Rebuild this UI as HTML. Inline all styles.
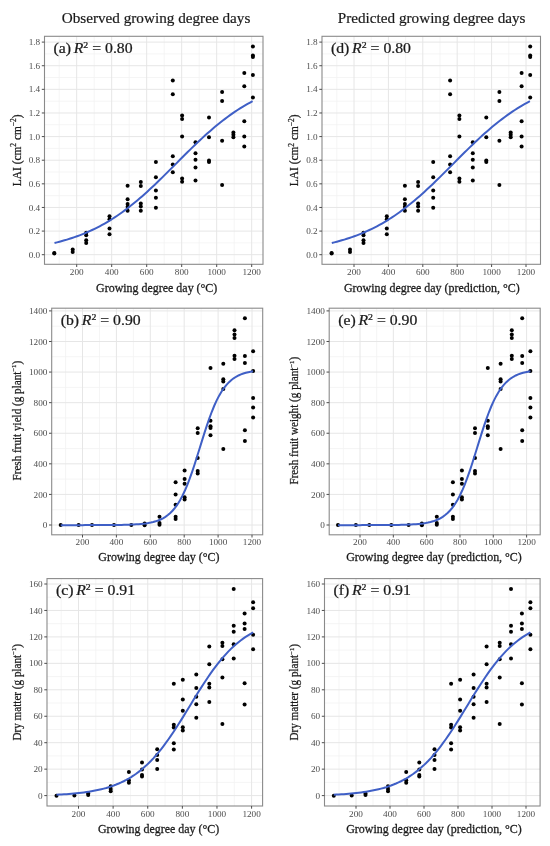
<!DOCTYPE html>
<html><head><meta charset="utf-8"><title>Growing degree days</title>
<style>
html,body{margin:0;padding:0;background:#fff;}
body{width:550px;height:846px;overflow:hidden;}
svg{display:block;}
text{font-family:'Liberation Serif', 'Times New Roman', serif;}
.tk{font-size:9.2px;fill:#4d4d4d;}
.pl{font-size:16px;fill:#1a1a1a;stroke:#1a1a1a;stroke-width:0.28px;}
.al{font-size:11.5px;fill:#1a1a1a;stroke:#1a1a1a;stroke-width:0.25px;}
.tt{font-size:15.2px;fill:#1a1a1a;stroke:#1a1a1a;stroke-width:0.2px;}
</style></head>
<body>
<svg width="550" height="846" viewBox="0 0 550 846">
<rect width="550" height="846" fill="#fff"/>
<text transform="translate(156,23.0) scale(1,0.94)" text-anchor="middle" class="tt">Observed growing degree days</text>
<text transform="translate(431.6,23.0) scale(1,0.94)" text-anchor="middle" class="tt">Predicted growing degree days</text>
<line x1="44.50" y1="242.89" x2="263.00" y2="242.89" stroke="#f3f3f3" stroke-width="0.8"/>
<line x1="44.50" y1="219.27" x2="263.00" y2="219.27" stroke="#f3f3f3" stroke-width="0.8"/>
<line x1="44.50" y1="195.64" x2="263.00" y2="195.64" stroke="#f3f3f3" stroke-width="0.8"/>
<line x1="44.50" y1="172.02" x2="263.00" y2="172.02" stroke="#f3f3f3" stroke-width="0.8"/>
<line x1="44.50" y1="148.40" x2="263.00" y2="148.40" stroke="#f3f3f3" stroke-width="0.8"/>
<line x1="44.50" y1="124.78" x2="263.00" y2="124.78" stroke="#f3f3f3" stroke-width="0.8"/>
<line x1="44.50" y1="101.16" x2="263.00" y2="101.16" stroke="#f3f3f3" stroke-width="0.8"/>
<line x1="44.50" y1="77.53" x2="263.00" y2="77.53" stroke="#f3f3f3" stroke-width="0.8"/>
<line x1="44.50" y1="53.91" x2="263.00" y2="53.91" stroke="#f3f3f3" stroke-width="0.8"/>
<line x1="94.20" y1="36.30" x2="94.20" y2="264.30" stroke="#f3f3f3" stroke-width="0.8"/>
<line x1="129.20" y1="36.30" x2="129.20" y2="264.30" stroke="#f3f3f3" stroke-width="0.8"/>
<line x1="164.20" y1="36.30" x2="164.20" y2="264.30" stroke="#f3f3f3" stroke-width="0.8"/>
<line x1="199.20" y1="36.30" x2="199.20" y2="264.30" stroke="#f3f3f3" stroke-width="0.8"/>
<line x1="234.20" y1="36.30" x2="234.20" y2="264.30" stroke="#f3f3f3" stroke-width="0.8"/>
<line x1="59.20" y1="36.30" x2="59.20" y2="264.30" stroke="#f3f3f3" stroke-width="0.8"/>
<line x1="44.50" y1="254.70" x2="263.00" y2="254.70" stroke="#e6e6e6" stroke-width="1"/>
<line x1="44.50" y1="231.08" x2="263.00" y2="231.08" stroke="#e6e6e6" stroke-width="1"/>
<line x1="44.50" y1="207.46" x2="263.00" y2="207.46" stroke="#e6e6e6" stroke-width="1"/>
<line x1="44.50" y1="183.83" x2="263.00" y2="183.83" stroke="#e6e6e6" stroke-width="1"/>
<line x1="44.50" y1="160.21" x2="263.00" y2="160.21" stroke="#e6e6e6" stroke-width="1"/>
<line x1="44.50" y1="136.59" x2="263.00" y2="136.59" stroke="#e6e6e6" stroke-width="1"/>
<line x1="44.50" y1="112.97" x2="263.00" y2="112.97" stroke="#e6e6e6" stroke-width="1"/>
<line x1="44.50" y1="89.34" x2="263.00" y2="89.34" stroke="#e6e6e6" stroke-width="1"/>
<line x1="44.50" y1="65.72" x2="263.00" y2="65.72" stroke="#e6e6e6" stroke-width="1"/>
<line x1="44.50" y1="42.10" x2="263.00" y2="42.10" stroke="#e6e6e6" stroke-width="1"/>
<line x1="76.70" y1="36.30" x2="76.70" y2="264.30" stroke="#e6e6e6" stroke-width="1"/>
<line x1="111.70" y1="36.30" x2="111.70" y2="264.30" stroke="#e6e6e6" stroke-width="1"/>
<line x1="146.70" y1="36.30" x2="146.70" y2="264.30" stroke="#e6e6e6" stroke-width="1"/>
<line x1="181.70" y1="36.30" x2="181.70" y2="264.30" stroke="#e6e6e6" stroke-width="1"/>
<line x1="216.70" y1="36.30" x2="216.70" y2="264.30" stroke="#e6e6e6" stroke-width="1"/>
<line x1="251.70" y1="36.30" x2="251.70" y2="264.30" stroke="#e6e6e6" stroke-width="1"/>
<circle cx="54.30" cy="253.40" r="2.0"/>
<circle cx="54.30" cy="253.00" r="2.0"/>
<circle cx="72.70" cy="249.40" r="2.0"/>
<circle cx="72.70" cy="251.90" r="2.0"/>
<circle cx="86.20" cy="232.70" r="2.0"/>
<circle cx="86.20" cy="235.20" r="2.0"/>
<circle cx="86.20" cy="240.30" r="2.0"/>
<circle cx="86.20" cy="242.90" r="2.0"/>
<circle cx="109.50" cy="216.30" r="2.0"/>
<circle cx="109.50" cy="219.20" r="2.0"/>
<circle cx="109.50" cy="228.60" r="2.0"/>
<circle cx="109.50" cy="234.20" r="2.0"/>
<circle cx="127.60" cy="185.80" r="2.0"/>
<circle cx="127.60" cy="199.30" r="2.0"/>
<circle cx="127.60" cy="203.90" r="2.0"/>
<circle cx="127.60" cy="206.80" r="2.0"/>
<circle cx="127.60" cy="210.70" r="2.0"/>
<circle cx="140.80" cy="181.90" r="2.0"/>
<circle cx="140.80" cy="185.90" r="2.0"/>
<circle cx="140.80" cy="203.50" r="2.0"/>
<circle cx="140.80" cy="206.40" r="2.0"/>
<circle cx="140.80" cy="210.70" r="2.0"/>
<circle cx="155.90" cy="161.90" r="2.0"/>
<circle cx="155.90" cy="177.20" r="2.0"/>
<circle cx="155.90" cy="190.50" r="2.0"/>
<circle cx="155.90" cy="197.80" r="2.0"/>
<circle cx="155.90" cy="207.80" r="2.0"/>
<circle cx="172.80" cy="80.40" r="2.0"/>
<circle cx="172.80" cy="94.20" r="2.0"/>
<circle cx="172.80" cy="156.30" r="2.0"/>
<circle cx="172.80" cy="164.50" r="2.0"/>
<circle cx="172.80" cy="172.30" r="2.0"/>
<circle cx="182.10" cy="115.40" r="2.0"/>
<circle cx="182.10" cy="119.00" r="2.0"/>
<circle cx="182.10" cy="136.50" r="2.0"/>
<circle cx="182.10" cy="178.40" r="2.0"/>
<circle cx="182.10" cy="181.70" r="2.0"/>
<circle cx="195.50" cy="142.30" r="2.0"/>
<circle cx="195.50" cy="153.20" r="2.0"/>
<circle cx="195.50" cy="159.70" r="2.0"/>
<circle cx="195.50" cy="167.60" r="2.0"/>
<circle cx="195.50" cy="180.50" r="2.0"/>
<circle cx="209.00" cy="117.60" r="2.0"/>
<circle cx="209.00" cy="137.20" r="2.0"/>
<circle cx="209.00" cy="160.60" r="2.0"/>
<circle cx="209.00" cy="162.10" r="2.0"/>
<circle cx="222.10" cy="92.00" r="2.0"/>
<circle cx="222.10" cy="101.00" r="2.0"/>
<circle cx="222.10" cy="140.80" r="2.0"/>
<circle cx="222.10" cy="184.90" r="2.0"/>
<circle cx="233.40" cy="132.50" r="2.0"/>
<circle cx="233.40" cy="134.70" r="2.0"/>
<circle cx="233.40" cy="137.30" r="2.0"/>
<circle cx="244.30" cy="73.10" r="2.0"/>
<circle cx="244.30" cy="86.20" r="2.0"/>
<circle cx="244.30" cy="121.30" r="2.0"/>
<circle cx="244.30" cy="136.50" r="2.0"/>
<circle cx="244.30" cy="146.40" r="2.0"/>
<circle cx="252.90" cy="46.50" r="2.0"/>
<circle cx="252.90" cy="55.60" r="2.0"/>
<circle cx="252.90" cy="57.10" r="2.0"/>
<circle cx="252.90" cy="75.00" r="2.0"/>
<circle cx="252.90" cy="97.40" r="2.0"/>
<path d="M54.50,242.97 L57.01,242.36 L59.52,241.72 L62.02,241.04 L64.53,240.33 L67.04,239.59 L69.55,238.82 L72.05,238.00 L74.56,237.15 L77.07,236.26 L79.58,235.33 L82.08,234.36 L84.59,233.34 L87.10,232.28 L89.61,231.17 L92.11,230.02 L94.62,228.82 L97.13,227.57 L99.64,226.27 L102.14,224.92 L104.65,223.52 L107.16,222.07 L109.67,220.56 L112.17,219.00 L114.68,217.38 L117.19,215.72 L119.70,213.99 L122.21,212.22 L124.71,210.39 L127.22,208.51 L129.73,206.57 L132.24,204.58 L134.74,202.55 L137.25,200.46 L139.76,198.33 L142.27,196.15 L144.77,193.93 L147.28,191.67 L149.79,189.36 L152.30,187.02 L154.80,184.65 L157.31,182.25 L159.82,179.82 L162.33,177.36 L164.83,174.89 L167.34,172.40 L169.85,169.89 L172.36,167.38 L174.86,164.86 L177.37,162.34 L179.88,159.82 L182.39,157.31 L184.89,154.81 L187.40,152.32 L189.91,149.85 L192.42,147.40 L194.93,144.98 L197.43,142.59 L199.94,140.22 L202.45,137.89 L204.96,135.60 L207.46,133.34 L209.97,131.13 L212.48,128.96 L214.99,126.84 L217.49,124.77 L220.00,122.74 L222.51,120.77 L225.02,118.84 L227.52,116.97 L230.03,115.16 L232.54,113.39 L235.05,111.69 L237.55,110.03 L240.06,108.43 L242.57,106.88 L245.08,105.39 L247.58,103.95 L250.09,102.56 L252.60,101.22" fill="none" stroke="#3f5fc6" stroke-width="2.0" stroke-linecap="butt"/>
<rect x="44.50" y="36.30" width="218.50" height="228.00" fill="none" stroke="#8a8a8a" stroke-width="1.1"/>
<line x1="41.80" y1="254.70" x2="44.50" y2="254.70" stroke="#4d4d4d" stroke-width="1"/>
<line x1="41.80" y1="231.08" x2="44.50" y2="231.08" stroke="#4d4d4d" stroke-width="1"/>
<line x1="41.80" y1="207.46" x2="44.50" y2="207.46" stroke="#4d4d4d" stroke-width="1"/>
<line x1="41.80" y1="183.83" x2="44.50" y2="183.83" stroke="#4d4d4d" stroke-width="1"/>
<line x1="41.80" y1="160.21" x2="44.50" y2="160.21" stroke="#4d4d4d" stroke-width="1"/>
<line x1="41.80" y1="136.59" x2="44.50" y2="136.59" stroke="#4d4d4d" stroke-width="1"/>
<line x1="41.80" y1="112.97" x2="44.50" y2="112.97" stroke="#4d4d4d" stroke-width="1"/>
<line x1="41.80" y1="89.34" x2="44.50" y2="89.34" stroke="#4d4d4d" stroke-width="1"/>
<line x1="41.80" y1="65.72" x2="44.50" y2="65.72" stroke="#4d4d4d" stroke-width="1"/>
<line x1="41.80" y1="42.10" x2="44.50" y2="42.10" stroke="#4d4d4d" stroke-width="1"/>
<line x1="76.70" y1="264.30" x2="76.70" y2="267.00" stroke="#4d4d4d" stroke-width="1"/>
<line x1="111.70" y1="264.30" x2="111.70" y2="267.00" stroke="#4d4d4d" stroke-width="1"/>
<line x1="146.70" y1="264.30" x2="146.70" y2="267.00" stroke="#4d4d4d" stroke-width="1"/>
<line x1="181.70" y1="264.30" x2="181.70" y2="267.00" stroke="#4d4d4d" stroke-width="1"/>
<line x1="216.70" y1="264.30" x2="216.70" y2="267.00" stroke="#4d4d4d" stroke-width="1"/>
<line x1="251.70" y1="264.30" x2="251.70" y2="267.00" stroke="#4d4d4d" stroke-width="1"/>
<text x="40.20" y="257.80" text-anchor="end" class="tk">0.0</text>
<text x="40.20" y="234.18" text-anchor="end" class="tk">0.2</text>
<text x="40.20" y="210.56" text-anchor="end" class="tk">0.4</text>
<text x="40.20" y="186.93" text-anchor="end" class="tk">0.6</text>
<text x="40.20" y="163.31" text-anchor="end" class="tk">0.8</text>
<text x="40.20" y="139.69" text-anchor="end" class="tk">1.0</text>
<text x="40.20" y="116.07" text-anchor="end" class="tk">1.2</text>
<text x="40.20" y="92.44" text-anchor="end" class="tk">1.4</text>
<text x="40.20" y="68.82" text-anchor="end" class="tk">1.6</text>
<text x="40.20" y="45.20" text-anchor="end" class="tk">1.8</text>
<text x="76.70" y="274.90" text-anchor="middle" class="tk">200</text>
<text x="111.70" y="274.90" text-anchor="middle" class="tk">400</text>
<text x="146.70" y="274.90" text-anchor="middle" class="tk">600</text>
<text x="181.70" y="274.90" text-anchor="middle" class="tk">800</text>
<text x="216.70" y="274.90" text-anchor="middle" class="tk">1000</text>
<text x="251.70" y="274.90" text-anchor="middle" class="tk">1200</text>
<text transform="translate(53.50,52.80) scale(0.985,0.86)" class="pl">(a) <tspan font-style="italic" dx="-1.2">R</tspan><tspan dy="-6" font-size="10">2</tspan><tspan dy="6"> = 0.80</tspan></text>
<text transform="translate(20.70,150.30) rotate(-90) scale(0.99,1)" text-anchor="middle" class="al">LAI (cm<tspan font-size="7.5" dy="-4.5">2</tspan><tspan dy="4.5"> cm</tspan><tspan font-size="7.5" dy="-4.5">−2</tspan><tspan dy="4.5">)</tspan></text>
<text transform="translate(156.70,291.70) scale(1.04,1)" text-anchor="middle" class="al">Growing degree day (°C)</text>
<line x1="322.00" y1="242.89" x2="540.50" y2="242.89" stroke="#f3f3f3" stroke-width="0.8"/>
<line x1="322.00" y1="219.27" x2="540.50" y2="219.27" stroke="#f3f3f3" stroke-width="0.8"/>
<line x1="322.00" y1="195.64" x2="540.50" y2="195.64" stroke="#f3f3f3" stroke-width="0.8"/>
<line x1="322.00" y1="172.02" x2="540.50" y2="172.02" stroke="#f3f3f3" stroke-width="0.8"/>
<line x1="322.00" y1="148.40" x2="540.50" y2="148.40" stroke="#f3f3f3" stroke-width="0.8"/>
<line x1="322.00" y1="124.78" x2="540.50" y2="124.78" stroke="#f3f3f3" stroke-width="0.8"/>
<line x1="322.00" y1="101.16" x2="540.50" y2="101.16" stroke="#f3f3f3" stroke-width="0.8"/>
<line x1="322.00" y1="77.53" x2="540.50" y2="77.53" stroke="#f3f3f3" stroke-width="0.8"/>
<line x1="322.00" y1="53.91" x2="540.50" y2="53.91" stroke="#f3f3f3" stroke-width="0.8"/>
<line x1="371.20" y1="36.30" x2="371.20" y2="264.30" stroke="#f3f3f3" stroke-width="0.8"/>
<line x1="405.60" y1="36.30" x2="405.60" y2="264.30" stroke="#f3f3f3" stroke-width="0.8"/>
<line x1="440.00" y1="36.30" x2="440.00" y2="264.30" stroke="#f3f3f3" stroke-width="0.8"/>
<line x1="474.40" y1="36.30" x2="474.40" y2="264.30" stroke="#f3f3f3" stroke-width="0.8"/>
<line x1="508.80" y1="36.30" x2="508.80" y2="264.30" stroke="#f3f3f3" stroke-width="0.8"/>
<line x1="336.80" y1="36.30" x2="336.80" y2="264.30" stroke="#f3f3f3" stroke-width="0.8"/>
<line x1="322.00" y1="254.70" x2="540.50" y2="254.70" stroke="#e6e6e6" stroke-width="1"/>
<line x1="322.00" y1="231.08" x2="540.50" y2="231.08" stroke="#e6e6e6" stroke-width="1"/>
<line x1="322.00" y1="207.46" x2="540.50" y2="207.46" stroke="#e6e6e6" stroke-width="1"/>
<line x1="322.00" y1="183.83" x2="540.50" y2="183.83" stroke="#e6e6e6" stroke-width="1"/>
<line x1="322.00" y1="160.21" x2="540.50" y2="160.21" stroke="#e6e6e6" stroke-width="1"/>
<line x1="322.00" y1="136.59" x2="540.50" y2="136.59" stroke="#e6e6e6" stroke-width="1"/>
<line x1="322.00" y1="112.97" x2="540.50" y2="112.97" stroke="#e6e6e6" stroke-width="1"/>
<line x1="322.00" y1="89.34" x2="540.50" y2="89.34" stroke="#e6e6e6" stroke-width="1"/>
<line x1="322.00" y1="65.72" x2="540.50" y2="65.72" stroke="#e6e6e6" stroke-width="1"/>
<line x1="322.00" y1="42.10" x2="540.50" y2="42.10" stroke="#e6e6e6" stroke-width="1"/>
<line x1="354.00" y1="36.30" x2="354.00" y2="264.30" stroke="#e6e6e6" stroke-width="1"/>
<line x1="388.40" y1="36.30" x2="388.40" y2="264.30" stroke="#e6e6e6" stroke-width="1"/>
<line x1="422.80" y1="36.30" x2="422.80" y2="264.30" stroke="#e6e6e6" stroke-width="1"/>
<line x1="457.20" y1="36.30" x2="457.20" y2="264.30" stroke="#e6e6e6" stroke-width="1"/>
<line x1="491.60" y1="36.30" x2="491.60" y2="264.30" stroke="#e6e6e6" stroke-width="1"/>
<line x1="526.00" y1="36.30" x2="526.00" y2="264.30" stroke="#e6e6e6" stroke-width="1"/>
<circle cx="331.60" cy="253.40" r="2.0"/>
<circle cx="331.60" cy="253.00" r="2.0"/>
<circle cx="350.00" cy="249.40" r="2.0"/>
<circle cx="350.00" cy="251.90" r="2.0"/>
<circle cx="363.50" cy="232.70" r="2.0"/>
<circle cx="363.50" cy="235.20" r="2.0"/>
<circle cx="363.50" cy="240.30" r="2.0"/>
<circle cx="363.50" cy="242.90" r="2.0"/>
<circle cx="386.80" cy="216.30" r="2.0"/>
<circle cx="386.80" cy="219.20" r="2.0"/>
<circle cx="386.80" cy="228.60" r="2.0"/>
<circle cx="386.80" cy="234.20" r="2.0"/>
<circle cx="404.90" cy="185.80" r="2.0"/>
<circle cx="404.90" cy="199.30" r="2.0"/>
<circle cx="404.90" cy="203.90" r="2.0"/>
<circle cx="404.90" cy="206.80" r="2.0"/>
<circle cx="404.90" cy="210.70" r="2.0"/>
<circle cx="418.10" cy="181.90" r="2.0"/>
<circle cx="418.10" cy="185.90" r="2.0"/>
<circle cx="418.10" cy="203.50" r="2.0"/>
<circle cx="418.10" cy="206.40" r="2.0"/>
<circle cx="418.10" cy="210.70" r="2.0"/>
<circle cx="433.20" cy="161.90" r="2.0"/>
<circle cx="433.20" cy="177.20" r="2.0"/>
<circle cx="433.20" cy="190.50" r="2.0"/>
<circle cx="433.20" cy="197.80" r="2.0"/>
<circle cx="433.20" cy="207.80" r="2.0"/>
<circle cx="450.10" cy="80.40" r="2.0"/>
<circle cx="450.10" cy="94.20" r="2.0"/>
<circle cx="450.10" cy="156.30" r="2.0"/>
<circle cx="450.10" cy="164.50" r="2.0"/>
<circle cx="450.10" cy="172.30" r="2.0"/>
<circle cx="459.40" cy="115.40" r="2.0"/>
<circle cx="459.40" cy="119.00" r="2.0"/>
<circle cx="459.40" cy="136.50" r="2.0"/>
<circle cx="459.40" cy="178.40" r="2.0"/>
<circle cx="459.40" cy="181.70" r="2.0"/>
<circle cx="472.80" cy="142.30" r="2.0"/>
<circle cx="472.80" cy="153.20" r="2.0"/>
<circle cx="472.80" cy="159.70" r="2.0"/>
<circle cx="472.80" cy="167.60" r="2.0"/>
<circle cx="472.80" cy="180.50" r="2.0"/>
<circle cx="486.30" cy="117.60" r="2.0"/>
<circle cx="486.30" cy="137.20" r="2.0"/>
<circle cx="486.30" cy="160.60" r="2.0"/>
<circle cx="486.30" cy="162.10" r="2.0"/>
<circle cx="499.40" cy="92.00" r="2.0"/>
<circle cx="499.40" cy="101.00" r="2.0"/>
<circle cx="499.40" cy="140.80" r="2.0"/>
<circle cx="499.40" cy="184.90" r="2.0"/>
<circle cx="510.70" cy="132.50" r="2.0"/>
<circle cx="510.70" cy="134.70" r="2.0"/>
<circle cx="510.70" cy="137.30" r="2.0"/>
<circle cx="521.60" cy="73.10" r="2.0"/>
<circle cx="521.60" cy="86.20" r="2.0"/>
<circle cx="521.60" cy="121.30" r="2.0"/>
<circle cx="521.60" cy="136.50" r="2.0"/>
<circle cx="521.60" cy="146.40" r="2.0"/>
<circle cx="530.20" cy="46.50" r="2.0"/>
<circle cx="530.20" cy="55.60" r="2.0"/>
<circle cx="530.20" cy="57.10" r="2.0"/>
<circle cx="530.20" cy="75.00" r="2.0"/>
<circle cx="530.20" cy="97.40" r="2.0"/>
<path d="M331.80,242.97 L334.31,242.36 L336.82,241.72 L339.32,241.04 L341.83,240.33 L344.34,239.59 L346.85,238.82 L349.35,238.00 L351.86,237.15 L354.37,236.26 L356.88,235.33 L359.38,234.36 L361.89,233.34 L364.40,232.28 L366.91,231.17 L369.41,230.02 L371.92,228.82 L374.43,227.57 L376.94,226.27 L379.44,224.92 L381.95,223.52 L384.46,222.07 L386.97,220.56 L389.47,219.00 L391.98,217.38 L394.49,215.72 L397.00,213.99 L399.51,212.22 L402.01,210.39 L404.52,208.51 L407.03,206.57 L409.54,204.58 L412.04,202.55 L414.55,200.46 L417.06,198.33 L419.57,196.15 L422.07,193.93 L424.58,191.67 L427.09,189.36 L429.60,187.02 L432.10,184.65 L434.61,182.25 L437.12,179.82 L439.63,177.36 L442.13,174.89 L444.64,172.40 L447.15,169.89 L449.66,167.38 L452.16,164.86 L454.67,162.34 L457.18,159.82 L459.69,157.31 L462.19,154.81 L464.70,152.32 L467.21,149.85 L469.72,147.40 L472.23,144.98 L474.73,142.59 L477.24,140.22 L479.75,137.89 L482.26,135.60 L484.76,133.34 L487.27,131.13 L489.78,128.96 L492.29,126.84 L494.79,124.77 L497.30,122.74 L499.81,120.77 L502.32,118.84 L504.82,116.97 L507.33,115.16 L509.84,113.39 L512.35,111.69 L514.85,110.03 L517.36,108.43 L519.87,106.88 L522.38,105.39 L524.88,103.95 L527.39,102.56 L529.90,101.22" fill="none" stroke="#3f5fc6" stroke-width="2.0" stroke-linecap="butt"/>
<rect x="322.00" y="36.30" width="218.50" height="228.00" fill="none" stroke="#8a8a8a" stroke-width="1.1"/>
<line x1="319.30" y1="254.70" x2="322.00" y2="254.70" stroke="#4d4d4d" stroke-width="1"/>
<line x1="319.30" y1="231.08" x2="322.00" y2="231.08" stroke="#4d4d4d" stroke-width="1"/>
<line x1="319.30" y1="207.46" x2="322.00" y2="207.46" stroke="#4d4d4d" stroke-width="1"/>
<line x1="319.30" y1="183.83" x2="322.00" y2="183.83" stroke="#4d4d4d" stroke-width="1"/>
<line x1="319.30" y1="160.21" x2="322.00" y2="160.21" stroke="#4d4d4d" stroke-width="1"/>
<line x1="319.30" y1="136.59" x2="322.00" y2="136.59" stroke="#4d4d4d" stroke-width="1"/>
<line x1="319.30" y1="112.97" x2="322.00" y2="112.97" stroke="#4d4d4d" stroke-width="1"/>
<line x1="319.30" y1="89.34" x2="322.00" y2="89.34" stroke="#4d4d4d" stroke-width="1"/>
<line x1="319.30" y1="65.72" x2="322.00" y2="65.72" stroke="#4d4d4d" stroke-width="1"/>
<line x1="319.30" y1="42.10" x2="322.00" y2="42.10" stroke="#4d4d4d" stroke-width="1"/>
<line x1="354.00" y1="264.30" x2="354.00" y2="267.00" stroke="#4d4d4d" stroke-width="1"/>
<line x1="388.40" y1="264.30" x2="388.40" y2="267.00" stroke="#4d4d4d" stroke-width="1"/>
<line x1="422.80" y1="264.30" x2="422.80" y2="267.00" stroke="#4d4d4d" stroke-width="1"/>
<line x1="457.20" y1="264.30" x2="457.20" y2="267.00" stroke="#4d4d4d" stroke-width="1"/>
<line x1="491.60" y1="264.30" x2="491.60" y2="267.00" stroke="#4d4d4d" stroke-width="1"/>
<line x1="526.00" y1="264.30" x2="526.00" y2="267.00" stroke="#4d4d4d" stroke-width="1"/>
<text x="317.70" y="257.80" text-anchor="end" class="tk">0.0</text>
<text x="317.70" y="234.18" text-anchor="end" class="tk">0.2</text>
<text x="317.70" y="210.56" text-anchor="end" class="tk">0.4</text>
<text x="317.70" y="186.93" text-anchor="end" class="tk">0.6</text>
<text x="317.70" y="163.31" text-anchor="end" class="tk">0.8</text>
<text x="317.70" y="139.69" text-anchor="end" class="tk">1.0</text>
<text x="317.70" y="116.07" text-anchor="end" class="tk">1.2</text>
<text x="317.70" y="92.44" text-anchor="end" class="tk">1.4</text>
<text x="317.70" y="68.82" text-anchor="end" class="tk">1.6</text>
<text x="317.70" y="45.20" text-anchor="end" class="tk">1.8</text>
<text x="354.00" y="274.90" text-anchor="middle" class="tk">200</text>
<text x="388.40" y="274.90" text-anchor="middle" class="tk">400</text>
<text x="422.80" y="274.90" text-anchor="middle" class="tk">600</text>
<text x="457.20" y="274.90" text-anchor="middle" class="tk">800</text>
<text x="491.60" y="274.90" text-anchor="middle" class="tk">1000</text>
<text x="526.00" y="274.90" text-anchor="middle" class="tk">1200</text>
<text transform="translate(331.00,52.80) scale(0.985,0.86)" class="pl">(d) <tspan font-style="italic" dx="-1.2">R</tspan><tspan dy="-6" font-size="10">2</tspan><tspan dy="6"> = 0.80</tspan></text>
<text transform="translate(298.20,150.30) rotate(-90) scale(0.99,1)" text-anchor="middle" class="al">LAI (cm<tspan font-size="7.5" dy="-4.5">2</tspan><tspan dy="4.5"> cm</tspan><tspan font-size="7.5" dy="-4.5">−2</tspan><tspan dy="4.5">)</tspan></text>
<text transform="translate(431.80,291.70) scale(1.04,1)" text-anchor="middle" class="al">Growing degree day (prediction, °C)</text>
<line x1="51.70" y1="509.71" x2="262.70" y2="509.71" stroke="#f3f3f3" stroke-width="0.8"/>
<line x1="51.70" y1="479.12" x2="262.70" y2="479.12" stroke="#f3f3f3" stroke-width="0.8"/>
<line x1="51.70" y1="448.54" x2="262.70" y2="448.54" stroke="#f3f3f3" stroke-width="0.8"/>
<line x1="51.70" y1="417.95" x2="262.70" y2="417.95" stroke="#f3f3f3" stroke-width="0.8"/>
<line x1="51.70" y1="387.36" x2="262.70" y2="387.36" stroke="#f3f3f3" stroke-width="0.8"/>
<line x1="51.70" y1="356.78" x2="262.70" y2="356.78" stroke="#f3f3f3" stroke-width="0.8"/>
<line x1="51.70" y1="326.19" x2="262.70" y2="326.19" stroke="#f3f3f3" stroke-width="0.8"/>
<line x1="99.45" y1="308.20" x2="99.45" y2="534.80" stroke="#f3f3f3" stroke-width="0.8"/>
<line x1="133.35" y1="308.20" x2="133.35" y2="534.80" stroke="#f3f3f3" stroke-width="0.8"/>
<line x1="167.25" y1="308.20" x2="167.25" y2="534.80" stroke="#f3f3f3" stroke-width="0.8"/>
<line x1="201.15" y1="308.20" x2="201.15" y2="534.80" stroke="#f3f3f3" stroke-width="0.8"/>
<line x1="235.05" y1="308.20" x2="235.05" y2="534.80" stroke="#f3f3f3" stroke-width="0.8"/>
<line x1="65.55" y1="308.20" x2="65.55" y2="534.80" stroke="#f3f3f3" stroke-width="0.8"/>
<line x1="51.70" y1="525.00" x2="262.70" y2="525.00" stroke="#e6e6e6" stroke-width="1"/>
<line x1="51.70" y1="494.41" x2="262.70" y2="494.41" stroke="#e6e6e6" stroke-width="1"/>
<line x1="51.70" y1="463.83" x2="262.70" y2="463.83" stroke="#e6e6e6" stroke-width="1"/>
<line x1="51.70" y1="433.24" x2="262.70" y2="433.24" stroke="#e6e6e6" stroke-width="1"/>
<line x1="51.70" y1="402.66" x2="262.70" y2="402.66" stroke="#e6e6e6" stroke-width="1"/>
<line x1="51.70" y1="372.07" x2="262.70" y2="372.07" stroke="#e6e6e6" stroke-width="1"/>
<line x1="51.70" y1="341.49" x2="262.70" y2="341.49" stroke="#e6e6e6" stroke-width="1"/>
<line x1="51.70" y1="310.90" x2="262.70" y2="310.90" stroke="#e6e6e6" stroke-width="1"/>
<line x1="82.50" y1="308.20" x2="82.50" y2="534.80" stroke="#e6e6e6" stroke-width="1"/>
<line x1="116.40" y1="308.20" x2="116.40" y2="534.80" stroke="#e6e6e6" stroke-width="1"/>
<line x1="150.30" y1="308.20" x2="150.30" y2="534.80" stroke="#e6e6e6" stroke-width="1"/>
<line x1="184.20" y1="308.20" x2="184.20" y2="534.80" stroke="#e6e6e6" stroke-width="1"/>
<line x1="218.10" y1="308.20" x2="218.10" y2="534.80" stroke="#e6e6e6" stroke-width="1"/>
<line x1="252.00" y1="308.20" x2="252.00" y2="534.80" stroke="#e6e6e6" stroke-width="1"/>
<circle cx="60.70" cy="525.00" r="2.0"/>
<circle cx="78.60" cy="525.00" r="2.0"/>
<circle cx="92.00" cy="525.00" r="2.0"/>
<circle cx="114.00" cy="525.00" r="2.0"/>
<circle cx="131.30" cy="525.00" r="2.0"/>
<circle cx="144.60" cy="523.40" r="2.0"/>
<circle cx="144.60" cy="525.30" r="2.0"/>
<circle cx="159.50" cy="516.80" r="2.0"/>
<circle cx="159.50" cy="522.90" r="2.0"/>
<circle cx="159.50" cy="524.80" r="2.0"/>
<circle cx="175.60" cy="482.20" r="2.0"/>
<circle cx="175.60" cy="494.60" r="2.0"/>
<circle cx="175.60" cy="504.70" r="2.0"/>
<circle cx="175.60" cy="516.80" r="2.0"/>
<circle cx="175.60" cy="519.00" r="2.0"/>
<circle cx="184.60" cy="470.60" r="2.0"/>
<circle cx="184.60" cy="479.00" r="2.0"/>
<circle cx="184.60" cy="483.70" r="2.0"/>
<circle cx="184.60" cy="497.20" r="2.0"/>
<circle cx="184.60" cy="499.40" r="2.0"/>
<circle cx="197.70" cy="428.20" r="2.0"/>
<circle cx="197.70" cy="432.90" r="2.0"/>
<circle cx="197.70" cy="458.00" r="2.0"/>
<circle cx="197.70" cy="471.00" r="2.0"/>
<circle cx="197.70" cy="473.50" r="2.0"/>
<circle cx="210.50" cy="368.10" r="2.0"/>
<circle cx="210.50" cy="420.70" r="2.0"/>
<circle cx="210.50" cy="426.30" r="2.0"/>
<circle cx="210.50" cy="428.00" r="2.0"/>
<circle cx="210.50" cy="435.30" r="2.0"/>
<circle cx="223.30" cy="363.70" r="2.0"/>
<circle cx="223.30" cy="379.30" r="2.0"/>
<circle cx="223.30" cy="381.50" r="2.0"/>
<circle cx="223.30" cy="389.00" r="2.0"/>
<circle cx="223.30" cy="449.10" r="2.0"/>
<circle cx="234.50" cy="330.30" r="2.0"/>
<circle cx="234.50" cy="334.60" r="2.0"/>
<circle cx="234.50" cy="338.10" r="2.0"/>
<circle cx="234.50" cy="355.70" r="2.0"/>
<circle cx="234.50" cy="358.90" r="2.0"/>
<circle cx="244.90" cy="318.20" r="2.0"/>
<circle cx="244.90" cy="356.00" r="2.0"/>
<circle cx="244.90" cy="363.00" r="2.0"/>
<circle cx="244.90" cy="430.20" r="2.0"/>
<circle cx="244.90" cy="441.10" r="2.0"/>
<circle cx="253.10" cy="351.20" r="2.0"/>
<circle cx="253.10" cy="371.00" r="2.0"/>
<circle cx="253.10" cy="397.90" r="2.0"/>
<circle cx="253.10" cy="407.60" r="2.0"/>
<circle cx="253.10" cy="417.50" r="2.0"/>
<path d="M60.70,525.13 L63.14,525.13 L65.57,525.13 L68.01,525.13 L70.44,525.13 L72.88,525.13 L75.31,525.13 L77.75,525.13 L80.18,525.13 L82.62,525.13 L85.05,525.12 L87.49,525.12 L89.93,525.12 L92.36,525.12 L94.80,525.11 L97.23,525.11 L99.67,525.10 L102.10,525.09 L104.54,525.08 L106.97,525.07 L109.41,525.05 L111.84,525.03 L114.28,525.01 L116.72,524.98 L119.15,524.95 L121.59,524.91 L124.02,524.86 L126.46,524.79 L128.89,524.72 L131.33,524.62 L133.76,524.51 L136.20,524.37 L138.63,524.20 L141.07,523.99 L143.51,523.73 L145.94,523.42 L148.38,523.04 L150.81,522.58 L153.25,522.01 L155.68,521.33 L158.12,520.50 L160.55,519.49 L162.99,518.28 L165.42,516.82 L167.86,515.07 L170.29,512.99 L172.73,510.51 L175.17,507.60 L177.60,504.18 L180.04,500.23 L182.47,495.69 L184.91,490.54 L187.34,484.78 L189.78,478.43 L192.21,471.55 L194.65,464.22 L197.08,456.55 L199.52,448.71 L201.96,440.83 L204.39,433.08 L206.83,425.61 L209.26,418.56 L211.70,412.00 L214.13,406.02 L216.57,400.65 L219.00,395.89 L221.44,391.73 L223.87,388.13 L226.31,385.04 L228.75,382.41 L231.18,380.19 L233.62,378.32 L236.05,376.76 L238.49,375.46 L240.92,374.39 L243.36,373.50 L245.79,372.76 L248.23,372.16 L250.66,371.66 L253.10,371.25" fill="none" stroke="#3f5fc6" stroke-width="2.0" stroke-linecap="butt"/>
<rect x="51.70" y="308.20" width="211.00" height="226.60" fill="none" stroke="#8a8a8a" stroke-width="1.1"/>
<line x1="49.00" y1="525.00" x2="51.70" y2="525.00" stroke="#4d4d4d" stroke-width="1"/>
<line x1="49.00" y1="494.41" x2="51.70" y2="494.41" stroke="#4d4d4d" stroke-width="1"/>
<line x1="49.00" y1="463.83" x2="51.70" y2="463.83" stroke="#4d4d4d" stroke-width="1"/>
<line x1="49.00" y1="433.24" x2="51.70" y2="433.24" stroke="#4d4d4d" stroke-width="1"/>
<line x1="49.00" y1="402.66" x2="51.70" y2="402.66" stroke="#4d4d4d" stroke-width="1"/>
<line x1="49.00" y1="372.07" x2="51.70" y2="372.07" stroke="#4d4d4d" stroke-width="1"/>
<line x1="49.00" y1="341.49" x2="51.70" y2="341.49" stroke="#4d4d4d" stroke-width="1"/>
<line x1="49.00" y1="310.90" x2="51.70" y2="310.90" stroke="#4d4d4d" stroke-width="1"/>
<line x1="82.50" y1="534.80" x2="82.50" y2="537.50" stroke="#4d4d4d" stroke-width="1"/>
<line x1="116.40" y1="534.80" x2="116.40" y2="537.50" stroke="#4d4d4d" stroke-width="1"/>
<line x1="150.30" y1="534.80" x2="150.30" y2="537.50" stroke="#4d4d4d" stroke-width="1"/>
<line x1="184.20" y1="534.80" x2="184.20" y2="537.50" stroke="#4d4d4d" stroke-width="1"/>
<line x1="218.10" y1="534.80" x2="218.10" y2="537.50" stroke="#4d4d4d" stroke-width="1"/>
<line x1="252.00" y1="534.80" x2="252.00" y2="537.50" stroke="#4d4d4d" stroke-width="1"/>
<text x="47.40" y="528.10" text-anchor="end" class="tk">0</text>
<text x="47.40" y="497.51" text-anchor="end" class="tk">200</text>
<text x="47.40" y="466.93" text-anchor="end" class="tk">400</text>
<text x="47.40" y="436.34" text-anchor="end" class="tk">600</text>
<text x="47.40" y="405.76" text-anchor="end" class="tk">800</text>
<text x="47.40" y="375.17" text-anchor="end" class="tk">1000</text>
<text x="47.40" y="344.59" text-anchor="end" class="tk">1200</text>
<text x="47.40" y="314.00" text-anchor="end" class="tk">1400</text>
<text x="82.50" y="545.40" text-anchor="middle" class="tk">200</text>
<text x="116.40" y="545.40" text-anchor="middle" class="tk">400</text>
<text x="150.30" y="545.40" text-anchor="middle" class="tk">600</text>
<text x="184.20" y="545.40" text-anchor="middle" class="tk">800</text>
<text x="218.10" y="545.40" text-anchor="middle" class="tk">1000</text>
<text x="252.00" y="545.40" text-anchor="middle" class="tk">1200</text>
<text transform="translate(60.70,324.70) scale(0.985,0.86)" class="pl">(b) <tspan font-style="italic" dx="-1.2">R</tspan><tspan dy="-6" font-size="10">2</tspan><tspan dy="6"> = 0.90</tspan></text>
<text transform="translate(20.70,420.70) rotate(-90) scale(0.97,1)" text-anchor="middle" class="al">Fresh fruit yield (g plant<tspan font-size="6.8" dy="-4.3">−1</tspan><tspan dy="4.3">)</tspan></text>
<text transform="translate(158.90,561.40) scale(1.04,1)" text-anchor="middle" class="al">Growing degree day (°C)</text>
<line x1="329.20" y1="509.71" x2="540.20" y2="509.71" stroke="#f3f3f3" stroke-width="0.8"/>
<line x1="329.20" y1="479.12" x2="540.20" y2="479.12" stroke="#f3f3f3" stroke-width="0.8"/>
<line x1="329.20" y1="448.54" x2="540.20" y2="448.54" stroke="#f3f3f3" stroke-width="0.8"/>
<line x1="329.20" y1="417.95" x2="540.20" y2="417.95" stroke="#f3f3f3" stroke-width="0.8"/>
<line x1="329.20" y1="387.36" x2="540.20" y2="387.36" stroke="#f3f3f3" stroke-width="0.8"/>
<line x1="329.20" y1="356.78" x2="540.20" y2="356.78" stroke="#f3f3f3" stroke-width="0.8"/>
<line x1="329.20" y1="326.19" x2="540.20" y2="326.19" stroke="#f3f3f3" stroke-width="0.8"/>
<line x1="376.66" y1="308.20" x2="376.66" y2="534.80" stroke="#f3f3f3" stroke-width="0.8"/>
<line x1="409.98" y1="308.20" x2="409.98" y2="534.80" stroke="#f3f3f3" stroke-width="0.8"/>
<line x1="443.30" y1="308.20" x2="443.30" y2="534.80" stroke="#f3f3f3" stroke-width="0.8"/>
<line x1="476.62" y1="308.20" x2="476.62" y2="534.80" stroke="#f3f3f3" stroke-width="0.8"/>
<line x1="509.94" y1="308.20" x2="509.94" y2="534.80" stroke="#f3f3f3" stroke-width="0.8"/>
<line x1="343.34" y1="308.20" x2="343.34" y2="534.80" stroke="#f3f3f3" stroke-width="0.8"/>
<line x1="329.20" y1="525.00" x2="540.20" y2="525.00" stroke="#e6e6e6" stroke-width="1"/>
<line x1="329.20" y1="494.41" x2="540.20" y2="494.41" stroke="#e6e6e6" stroke-width="1"/>
<line x1="329.20" y1="463.83" x2="540.20" y2="463.83" stroke="#e6e6e6" stroke-width="1"/>
<line x1="329.20" y1="433.24" x2="540.20" y2="433.24" stroke="#e6e6e6" stroke-width="1"/>
<line x1="329.20" y1="402.66" x2="540.20" y2="402.66" stroke="#e6e6e6" stroke-width="1"/>
<line x1="329.20" y1="372.07" x2="540.20" y2="372.07" stroke="#e6e6e6" stroke-width="1"/>
<line x1="329.20" y1="341.49" x2="540.20" y2="341.49" stroke="#e6e6e6" stroke-width="1"/>
<line x1="329.20" y1="310.90" x2="540.20" y2="310.90" stroke="#e6e6e6" stroke-width="1"/>
<line x1="360.00" y1="308.20" x2="360.00" y2="534.80" stroke="#e6e6e6" stroke-width="1"/>
<line x1="393.32" y1="308.20" x2="393.32" y2="534.80" stroke="#e6e6e6" stroke-width="1"/>
<line x1="426.64" y1="308.20" x2="426.64" y2="534.80" stroke="#e6e6e6" stroke-width="1"/>
<line x1="459.96" y1="308.20" x2="459.96" y2="534.80" stroke="#e6e6e6" stroke-width="1"/>
<line x1="493.28" y1="308.20" x2="493.28" y2="534.80" stroke="#e6e6e6" stroke-width="1"/>
<line x1="526.60" y1="308.20" x2="526.60" y2="534.80" stroke="#e6e6e6" stroke-width="1"/>
<circle cx="338.00" cy="525.00" r="2.0"/>
<circle cx="355.90" cy="525.00" r="2.0"/>
<circle cx="369.30" cy="525.00" r="2.0"/>
<circle cx="391.30" cy="525.00" r="2.0"/>
<circle cx="408.60" cy="525.00" r="2.0"/>
<circle cx="421.90" cy="523.40" r="2.0"/>
<circle cx="421.90" cy="525.30" r="2.0"/>
<circle cx="436.80" cy="516.80" r="2.0"/>
<circle cx="436.80" cy="522.90" r="2.0"/>
<circle cx="436.80" cy="524.80" r="2.0"/>
<circle cx="452.90" cy="482.20" r="2.0"/>
<circle cx="452.90" cy="494.60" r="2.0"/>
<circle cx="452.90" cy="504.70" r="2.0"/>
<circle cx="452.90" cy="516.80" r="2.0"/>
<circle cx="452.90" cy="519.00" r="2.0"/>
<circle cx="461.90" cy="470.60" r="2.0"/>
<circle cx="461.90" cy="479.00" r="2.0"/>
<circle cx="461.90" cy="483.70" r="2.0"/>
<circle cx="461.90" cy="497.20" r="2.0"/>
<circle cx="461.90" cy="499.40" r="2.0"/>
<circle cx="475.00" cy="428.20" r="2.0"/>
<circle cx="475.00" cy="432.90" r="2.0"/>
<circle cx="475.00" cy="458.00" r="2.0"/>
<circle cx="475.00" cy="471.00" r="2.0"/>
<circle cx="475.00" cy="473.50" r="2.0"/>
<circle cx="487.80" cy="368.10" r="2.0"/>
<circle cx="487.80" cy="420.70" r="2.0"/>
<circle cx="487.80" cy="426.30" r="2.0"/>
<circle cx="487.80" cy="428.00" r="2.0"/>
<circle cx="487.80" cy="435.30" r="2.0"/>
<circle cx="500.60" cy="363.70" r="2.0"/>
<circle cx="500.60" cy="379.30" r="2.0"/>
<circle cx="500.60" cy="381.50" r="2.0"/>
<circle cx="500.60" cy="389.00" r="2.0"/>
<circle cx="500.60" cy="449.10" r="2.0"/>
<circle cx="511.80" cy="330.30" r="2.0"/>
<circle cx="511.80" cy="334.60" r="2.0"/>
<circle cx="511.80" cy="338.10" r="2.0"/>
<circle cx="511.80" cy="355.70" r="2.0"/>
<circle cx="511.80" cy="358.90" r="2.0"/>
<circle cx="522.20" cy="318.20" r="2.0"/>
<circle cx="522.20" cy="356.00" r="2.0"/>
<circle cx="522.20" cy="363.00" r="2.0"/>
<circle cx="522.20" cy="430.20" r="2.0"/>
<circle cx="522.20" cy="441.10" r="2.0"/>
<circle cx="530.40" cy="351.20" r="2.0"/>
<circle cx="530.40" cy="371.00" r="2.0"/>
<circle cx="530.40" cy="397.90" r="2.0"/>
<circle cx="530.40" cy="407.60" r="2.0"/>
<circle cx="530.40" cy="417.50" r="2.0"/>
<path d="M338.00,525.13 L340.44,525.13 L342.87,525.13 L345.31,525.13 L347.74,525.13 L350.18,525.13 L352.61,525.13 L355.05,525.13 L357.48,525.13 L359.92,525.13 L362.35,525.12 L364.79,525.12 L367.23,525.12 L369.66,525.12 L372.10,525.11 L374.53,525.11 L376.97,525.10 L379.40,525.09 L381.84,525.08 L384.27,525.07 L386.71,525.05 L389.14,525.03 L391.58,525.01 L394.02,524.98 L396.45,524.95 L398.89,524.91 L401.32,524.86 L403.76,524.79 L406.19,524.72 L408.63,524.62 L411.06,524.51 L413.50,524.37 L415.93,524.20 L418.37,523.99 L420.81,523.73 L423.24,523.42 L425.68,523.04 L428.11,522.58 L430.55,522.01 L432.98,521.33 L435.42,520.50 L437.85,519.49 L440.29,518.28 L442.72,516.82 L445.16,515.07 L447.59,512.99 L450.03,510.51 L452.47,507.60 L454.90,504.18 L457.34,500.23 L459.77,495.69 L462.21,490.54 L464.64,484.78 L467.08,478.43 L469.51,471.55 L471.95,464.22 L474.38,456.55 L476.82,448.71 L479.26,440.83 L481.69,433.08 L484.13,425.61 L486.56,418.56 L489.00,412.00 L491.43,406.02 L493.87,400.65 L496.30,395.89 L498.74,391.73 L501.17,388.13 L503.61,385.04 L506.05,382.41 L508.48,380.19 L510.92,378.32 L513.35,376.76 L515.79,375.46 L518.22,374.39 L520.66,373.50 L523.09,372.76 L525.53,372.16 L527.96,371.66 L530.40,371.25" fill="none" stroke="#3f5fc6" stroke-width="2.0" stroke-linecap="butt"/>
<rect x="329.20" y="308.20" width="211.00" height="226.60" fill="none" stroke="#8a8a8a" stroke-width="1.1"/>
<line x1="326.50" y1="525.00" x2="329.20" y2="525.00" stroke="#4d4d4d" stroke-width="1"/>
<line x1="326.50" y1="494.41" x2="329.20" y2="494.41" stroke="#4d4d4d" stroke-width="1"/>
<line x1="326.50" y1="463.83" x2="329.20" y2="463.83" stroke="#4d4d4d" stroke-width="1"/>
<line x1="326.50" y1="433.24" x2="329.20" y2="433.24" stroke="#4d4d4d" stroke-width="1"/>
<line x1="326.50" y1="402.66" x2="329.20" y2="402.66" stroke="#4d4d4d" stroke-width="1"/>
<line x1="326.50" y1="372.07" x2="329.20" y2="372.07" stroke="#4d4d4d" stroke-width="1"/>
<line x1="326.50" y1="341.49" x2="329.20" y2="341.49" stroke="#4d4d4d" stroke-width="1"/>
<line x1="326.50" y1="310.90" x2="329.20" y2="310.90" stroke="#4d4d4d" stroke-width="1"/>
<line x1="360.00" y1="534.80" x2="360.00" y2="537.50" stroke="#4d4d4d" stroke-width="1"/>
<line x1="393.32" y1="534.80" x2="393.32" y2="537.50" stroke="#4d4d4d" stroke-width="1"/>
<line x1="426.64" y1="534.80" x2="426.64" y2="537.50" stroke="#4d4d4d" stroke-width="1"/>
<line x1="459.96" y1="534.80" x2="459.96" y2="537.50" stroke="#4d4d4d" stroke-width="1"/>
<line x1="493.28" y1="534.80" x2="493.28" y2="537.50" stroke="#4d4d4d" stroke-width="1"/>
<line x1="526.60" y1="534.80" x2="526.60" y2="537.50" stroke="#4d4d4d" stroke-width="1"/>
<text x="324.90" y="528.10" text-anchor="end" class="tk">0</text>
<text x="324.90" y="497.51" text-anchor="end" class="tk">200</text>
<text x="324.90" y="466.93" text-anchor="end" class="tk">400</text>
<text x="324.90" y="436.34" text-anchor="end" class="tk">600</text>
<text x="324.90" y="405.76" text-anchor="end" class="tk">800</text>
<text x="324.90" y="375.17" text-anchor="end" class="tk">1000</text>
<text x="324.90" y="344.59" text-anchor="end" class="tk">1200</text>
<text x="324.90" y="314.00" text-anchor="end" class="tk">1400</text>
<text x="360.00" y="545.40" text-anchor="middle" class="tk">200</text>
<text x="393.32" y="545.40" text-anchor="middle" class="tk">400</text>
<text x="426.64" y="545.40" text-anchor="middle" class="tk">600</text>
<text x="459.96" y="545.40" text-anchor="middle" class="tk">800</text>
<text x="493.28" y="545.40" text-anchor="middle" class="tk">1000</text>
<text x="526.60" y="545.40" text-anchor="middle" class="tk">1200</text>
<text transform="translate(338.20,324.70) scale(0.985,0.86)" class="pl">(e) <tspan font-style="italic" dx="-1.2">R</tspan><tspan dy="-6" font-size="10">2</tspan><tspan dy="6"> = 0.90</tspan></text>
<text transform="translate(298.20,420.70) rotate(-90) scale(0.97,1)" text-anchor="middle" class="al">Fresh fruit weight (g plant<tspan font-size="6.8" dy="-4.3">−1</tspan><tspan dy="4.3">)</tspan></text>
<text transform="translate(434.00,561.40) scale(1.04,1)" text-anchor="middle" class="al">Growing degree day (prediction, °C)</text>
<line x1="47.00" y1="782.38" x2="262.60" y2="782.38" stroke="#f3f3f3" stroke-width="0.8"/>
<line x1="47.00" y1="755.92" x2="262.60" y2="755.92" stroke="#f3f3f3" stroke-width="0.8"/>
<line x1="47.00" y1="729.48" x2="262.60" y2="729.48" stroke="#f3f3f3" stroke-width="0.8"/>
<line x1="47.00" y1="703.02" x2="262.60" y2="703.02" stroke="#f3f3f3" stroke-width="0.8"/>
<line x1="47.00" y1="676.58" x2="262.60" y2="676.58" stroke="#f3f3f3" stroke-width="0.8"/>
<line x1="47.00" y1="650.12" x2="262.60" y2="650.12" stroke="#f3f3f3" stroke-width="0.8"/>
<line x1="47.00" y1="623.67" x2="262.60" y2="623.67" stroke="#f3f3f3" stroke-width="0.8"/>
<line x1="47.00" y1="597.23" x2="262.60" y2="597.23" stroke="#f3f3f3" stroke-width="0.8"/>
<line x1="95.81" y1="578.60" x2="95.81" y2="806.00" stroke="#f3f3f3" stroke-width="0.8"/>
<line x1="130.43" y1="578.60" x2="130.43" y2="806.00" stroke="#f3f3f3" stroke-width="0.8"/>
<line x1="165.05" y1="578.60" x2="165.05" y2="806.00" stroke="#f3f3f3" stroke-width="0.8"/>
<line x1="199.67" y1="578.60" x2="199.67" y2="806.00" stroke="#f3f3f3" stroke-width="0.8"/>
<line x1="234.29" y1="578.60" x2="234.29" y2="806.00" stroke="#f3f3f3" stroke-width="0.8"/>
<line x1="61.19" y1="578.60" x2="61.19" y2="806.00" stroke="#f3f3f3" stroke-width="0.8"/>
<line x1="47.00" y1="795.60" x2="262.60" y2="795.60" stroke="#e6e6e6" stroke-width="1"/>
<line x1="47.00" y1="769.15" x2="262.60" y2="769.15" stroke="#e6e6e6" stroke-width="1"/>
<line x1="47.00" y1="742.70" x2="262.60" y2="742.70" stroke="#e6e6e6" stroke-width="1"/>
<line x1="47.00" y1="716.25" x2="262.60" y2="716.25" stroke="#e6e6e6" stroke-width="1"/>
<line x1="47.00" y1="689.80" x2="262.60" y2="689.80" stroke="#e6e6e6" stroke-width="1"/>
<line x1="47.00" y1="663.35" x2="262.60" y2="663.35" stroke="#e6e6e6" stroke-width="1"/>
<line x1="47.00" y1="636.90" x2="262.60" y2="636.90" stroke="#e6e6e6" stroke-width="1"/>
<line x1="47.00" y1="610.45" x2="262.60" y2="610.45" stroke="#e6e6e6" stroke-width="1"/>
<line x1="47.00" y1="584.00" x2="262.60" y2="584.00" stroke="#e6e6e6" stroke-width="1"/>
<line x1="78.50" y1="578.60" x2="78.50" y2="806.00" stroke="#e6e6e6" stroke-width="1"/>
<line x1="113.12" y1="578.60" x2="113.12" y2="806.00" stroke="#e6e6e6" stroke-width="1"/>
<line x1="147.74" y1="578.60" x2="147.74" y2="806.00" stroke="#e6e6e6" stroke-width="1"/>
<line x1="182.36" y1="578.60" x2="182.36" y2="806.00" stroke="#e6e6e6" stroke-width="1"/>
<line x1="216.98" y1="578.60" x2="216.98" y2="806.00" stroke="#e6e6e6" stroke-width="1"/>
<line x1="251.60" y1="578.60" x2="251.60" y2="806.00" stroke="#e6e6e6" stroke-width="1"/>
<circle cx="56.50" cy="795.80" r="2.0"/>
<circle cx="74.40" cy="795.40" r="2.0"/>
<circle cx="88.20" cy="793.60" r="2.0"/>
<circle cx="88.20" cy="795.10" r="2.0"/>
<circle cx="110.70" cy="786.20" r="2.0"/>
<circle cx="110.70" cy="788.90" r="2.0"/>
<circle cx="110.70" cy="791.20" r="2.0"/>
<circle cx="128.90" cy="772.10" r="2.0"/>
<circle cx="128.90" cy="780.30" r="2.0"/>
<circle cx="128.90" cy="782.70" r="2.0"/>
<circle cx="142.00" cy="762.40" r="2.0"/>
<circle cx="142.00" cy="769.40" r="2.0"/>
<circle cx="142.00" cy="775.10" r="2.0"/>
<circle cx="142.00" cy="776.60" r="2.0"/>
<circle cx="157.20" cy="749.30" r="2.0"/>
<circle cx="157.20" cy="755.00" r="2.0"/>
<circle cx="157.20" cy="760.00" r="2.0"/>
<circle cx="157.20" cy="769.00" r="2.0"/>
<circle cx="173.80" cy="683.80" r="2.0"/>
<circle cx="173.80" cy="724.70" r="2.0"/>
<circle cx="173.80" cy="727.60" r="2.0"/>
<circle cx="173.80" cy="743.20" r="2.0"/>
<circle cx="173.80" cy="749.50" r="2.0"/>
<circle cx="182.80" cy="679.70" r="2.0"/>
<circle cx="182.80" cy="699.60" r="2.0"/>
<circle cx="182.80" cy="710.80" r="2.0"/>
<circle cx="182.80" cy="727.20" r="2.0"/>
<circle cx="182.80" cy="730.50" r="2.0"/>
<circle cx="196.30" cy="674.60" r="2.0"/>
<circle cx="196.30" cy="688.00" r="2.0"/>
<circle cx="196.30" cy="696.70" r="2.0"/>
<circle cx="196.30" cy="704.30" r="2.0"/>
<circle cx="196.30" cy="717.80" r="2.0"/>
<circle cx="209.30" cy="646.40" r="2.0"/>
<circle cx="209.30" cy="664.30" r="2.0"/>
<circle cx="209.30" cy="683.70" r="2.0"/>
<circle cx="209.30" cy="687.40" r="2.0"/>
<circle cx="209.30" cy="702.10" r="2.0"/>
<circle cx="222.40" cy="642.70" r="2.0"/>
<circle cx="222.40" cy="645.90" r="2.0"/>
<circle cx="222.40" cy="659.30" r="2.0"/>
<circle cx="222.40" cy="677.40" r="2.0"/>
<circle cx="222.40" cy="723.90" r="2.0"/>
<circle cx="233.70" cy="588.90" r="2.0"/>
<circle cx="233.70" cy="625.70" r="2.0"/>
<circle cx="233.70" cy="631.80" r="2.0"/>
<circle cx="233.70" cy="644.20" r="2.0"/>
<circle cx="233.70" cy="658.40" r="2.0"/>
<circle cx="244.60" cy="613.60" r="2.0"/>
<circle cx="244.60" cy="623.40" r="2.0"/>
<circle cx="244.60" cy="628.90" r="2.0"/>
<circle cx="244.60" cy="683.20" r="2.0"/>
<circle cx="244.60" cy="704.40" r="2.0"/>
<circle cx="253.10" cy="602.30" r="2.0"/>
<circle cx="253.10" cy="608.30" r="2.0"/>
<circle cx="253.10" cy="634.70" r="2.0"/>
<circle cx="253.10" cy="649.30" r="2.0"/>
<path d="M56.50,794.75 L58.99,794.62 L61.48,794.48 L63.97,794.32 L66.45,794.15 L68.94,793.96 L71.43,793.76 L73.92,793.53 L76.41,793.29 L78.90,793.02 L81.39,792.73 L83.87,792.41 L86.36,792.07 L88.85,791.69 L91.34,791.28 L93.83,790.83 L96.32,790.34 L98.81,789.81 L101.29,789.23 L103.78,788.60 L106.27,787.92 L108.76,787.18 L111.25,786.37 L113.74,785.50 L116.23,784.55 L118.72,783.53 L121.20,782.42 L123.69,781.23 L126.18,779.94 L128.67,778.55 L131.16,777.06 L133.65,775.46 L136.14,773.74 L138.62,771.90 L141.11,769.93 L143.60,767.83 L146.09,765.60 L148.58,763.23 L151.07,760.73 L153.56,758.07 L156.04,755.28 L158.53,752.35 L161.02,749.27 L163.51,746.06 L166.00,742.72 L168.49,739.25 L170.98,735.67 L173.46,731.97 L175.95,728.18 L178.44,724.31 L180.93,720.36 L183.42,716.36 L185.91,712.31 L188.40,708.24 L190.88,704.16 L193.37,700.09 L195.86,696.05 L198.35,692.04 L200.84,688.10 L203.33,684.22 L205.82,680.43 L208.31,676.73 L210.79,673.15 L213.28,669.68 L215.77,666.33 L218.26,663.12 L220.75,660.05 L223.24,657.11 L225.73,654.32 L228.21,651.66 L230.70,649.15 L233.19,646.78 L235.68,644.55 L238.17,642.45 L240.66,640.48 L243.15,638.64 L245.63,636.92 L248.12,635.32 L250.61,633.82 L253.10,632.43" fill="none" stroke="#3f5fc6" stroke-width="2.0" stroke-linecap="butt"/>
<rect x="47.00" y="578.60" width="215.60" height="227.40" fill="none" stroke="#8a8a8a" stroke-width="1.1"/>
<line x1="44.30" y1="795.60" x2="47.00" y2="795.60" stroke="#4d4d4d" stroke-width="1"/>
<line x1="44.30" y1="769.15" x2="47.00" y2="769.15" stroke="#4d4d4d" stroke-width="1"/>
<line x1="44.30" y1="742.70" x2="47.00" y2="742.70" stroke="#4d4d4d" stroke-width="1"/>
<line x1="44.30" y1="716.25" x2="47.00" y2="716.25" stroke="#4d4d4d" stroke-width="1"/>
<line x1="44.30" y1="689.80" x2="47.00" y2="689.80" stroke="#4d4d4d" stroke-width="1"/>
<line x1="44.30" y1="663.35" x2="47.00" y2="663.35" stroke="#4d4d4d" stroke-width="1"/>
<line x1="44.30" y1="636.90" x2="47.00" y2="636.90" stroke="#4d4d4d" stroke-width="1"/>
<line x1="44.30" y1="610.45" x2="47.00" y2="610.45" stroke="#4d4d4d" stroke-width="1"/>
<line x1="44.30" y1="584.00" x2="47.00" y2="584.00" stroke="#4d4d4d" stroke-width="1"/>
<line x1="78.50" y1="806.00" x2="78.50" y2="808.70" stroke="#4d4d4d" stroke-width="1"/>
<line x1="113.12" y1="806.00" x2="113.12" y2="808.70" stroke="#4d4d4d" stroke-width="1"/>
<line x1="147.74" y1="806.00" x2="147.74" y2="808.70" stroke="#4d4d4d" stroke-width="1"/>
<line x1="182.36" y1="806.00" x2="182.36" y2="808.70" stroke="#4d4d4d" stroke-width="1"/>
<line x1="216.98" y1="806.00" x2="216.98" y2="808.70" stroke="#4d4d4d" stroke-width="1"/>
<line x1="251.60" y1="806.00" x2="251.60" y2="808.70" stroke="#4d4d4d" stroke-width="1"/>
<text x="42.70" y="798.70" text-anchor="end" class="tk">0</text>
<text x="42.70" y="772.25" text-anchor="end" class="tk">20</text>
<text x="42.70" y="745.80" text-anchor="end" class="tk">40</text>
<text x="42.70" y="719.35" text-anchor="end" class="tk">60</text>
<text x="42.70" y="692.90" text-anchor="end" class="tk">80</text>
<text x="42.70" y="666.45" text-anchor="end" class="tk">100</text>
<text x="42.70" y="640.00" text-anchor="end" class="tk">120</text>
<text x="42.70" y="613.55" text-anchor="end" class="tk">140</text>
<text x="42.70" y="587.10" text-anchor="end" class="tk">160</text>
<text x="78.50" y="816.60" text-anchor="middle" class="tk">200</text>
<text x="113.12" y="816.60" text-anchor="middle" class="tk">400</text>
<text x="147.74" y="816.60" text-anchor="middle" class="tk">600</text>
<text x="182.36" y="816.60" text-anchor="middle" class="tk">800</text>
<text x="216.98" y="816.60" text-anchor="middle" class="tk">1000</text>
<text x="251.60" y="816.60" text-anchor="middle" class="tk">1200</text>
<text transform="translate(56.00,595.10) scale(0.985,0.86)" class="pl">(c) <tspan font-style="italic" dx="-1.2">R</tspan><tspan dy="-6" font-size="10">2</tspan><tspan dy="6"> = 0.91</tspan></text>
<text transform="translate(20.70,692.30) rotate(-90) scale(0.97,1)" text-anchor="middle" class="al">Dry matter (g plant<tspan font-size="6.8" dy="-4.3">−1</tspan><tspan dy="4.3">)</tspan></text>
<text transform="translate(158.60,832.70) scale(1.04,1)" text-anchor="middle" class="al">Growing degree day (°C)</text>
<line x1="324.50" y1="782.38" x2="540.10" y2="782.38" stroke="#f3f3f3" stroke-width="0.8"/>
<line x1="324.50" y1="755.92" x2="540.10" y2="755.92" stroke="#f3f3f3" stroke-width="0.8"/>
<line x1="324.50" y1="729.48" x2="540.10" y2="729.48" stroke="#f3f3f3" stroke-width="0.8"/>
<line x1="324.50" y1="703.02" x2="540.10" y2="703.02" stroke="#f3f3f3" stroke-width="0.8"/>
<line x1="324.50" y1="676.58" x2="540.10" y2="676.58" stroke="#f3f3f3" stroke-width="0.8"/>
<line x1="324.50" y1="650.12" x2="540.10" y2="650.12" stroke="#f3f3f3" stroke-width="0.8"/>
<line x1="324.50" y1="623.67" x2="540.10" y2="623.67" stroke="#f3f3f3" stroke-width="0.8"/>
<line x1="324.50" y1="597.23" x2="540.10" y2="597.23" stroke="#f3f3f3" stroke-width="0.8"/>
<line x1="373.00" y1="578.60" x2="373.00" y2="806.00" stroke="#f3f3f3" stroke-width="0.8"/>
<line x1="407.00" y1="578.60" x2="407.00" y2="806.00" stroke="#f3f3f3" stroke-width="0.8"/>
<line x1="441.00" y1="578.60" x2="441.00" y2="806.00" stroke="#f3f3f3" stroke-width="0.8"/>
<line x1="475.00" y1="578.60" x2="475.00" y2="806.00" stroke="#f3f3f3" stroke-width="0.8"/>
<line x1="509.00" y1="578.60" x2="509.00" y2="806.00" stroke="#f3f3f3" stroke-width="0.8"/>
<line x1="339.00" y1="578.60" x2="339.00" y2="806.00" stroke="#f3f3f3" stroke-width="0.8"/>
<line x1="324.50" y1="795.60" x2="540.10" y2="795.60" stroke="#e6e6e6" stroke-width="1"/>
<line x1="324.50" y1="769.15" x2="540.10" y2="769.15" stroke="#e6e6e6" stroke-width="1"/>
<line x1="324.50" y1="742.70" x2="540.10" y2="742.70" stroke="#e6e6e6" stroke-width="1"/>
<line x1="324.50" y1="716.25" x2="540.10" y2="716.25" stroke="#e6e6e6" stroke-width="1"/>
<line x1="324.50" y1="689.80" x2="540.10" y2="689.80" stroke="#e6e6e6" stroke-width="1"/>
<line x1="324.50" y1="663.35" x2="540.10" y2="663.35" stroke="#e6e6e6" stroke-width="1"/>
<line x1="324.50" y1="636.90" x2="540.10" y2="636.90" stroke="#e6e6e6" stroke-width="1"/>
<line x1="324.50" y1="610.45" x2="540.10" y2="610.45" stroke="#e6e6e6" stroke-width="1"/>
<line x1="324.50" y1="584.00" x2="540.10" y2="584.00" stroke="#e6e6e6" stroke-width="1"/>
<line x1="356.00" y1="578.60" x2="356.00" y2="806.00" stroke="#e6e6e6" stroke-width="1"/>
<line x1="390.00" y1="578.60" x2="390.00" y2="806.00" stroke="#e6e6e6" stroke-width="1"/>
<line x1="424.00" y1="578.60" x2="424.00" y2="806.00" stroke="#e6e6e6" stroke-width="1"/>
<line x1="458.00" y1="578.60" x2="458.00" y2="806.00" stroke="#e6e6e6" stroke-width="1"/>
<line x1="492.00" y1="578.60" x2="492.00" y2="806.00" stroke="#e6e6e6" stroke-width="1"/>
<line x1="526.00" y1="578.60" x2="526.00" y2="806.00" stroke="#e6e6e6" stroke-width="1"/>
<circle cx="333.80" cy="795.80" r="2.0"/>
<circle cx="351.70" cy="795.40" r="2.0"/>
<circle cx="365.50" cy="793.60" r="2.0"/>
<circle cx="365.50" cy="795.10" r="2.0"/>
<circle cx="388.00" cy="786.20" r="2.0"/>
<circle cx="388.00" cy="788.90" r="2.0"/>
<circle cx="388.00" cy="791.20" r="2.0"/>
<circle cx="406.20" cy="772.10" r="2.0"/>
<circle cx="406.20" cy="780.30" r="2.0"/>
<circle cx="406.20" cy="782.70" r="2.0"/>
<circle cx="419.30" cy="762.40" r="2.0"/>
<circle cx="419.30" cy="769.40" r="2.0"/>
<circle cx="419.30" cy="775.10" r="2.0"/>
<circle cx="419.30" cy="776.60" r="2.0"/>
<circle cx="434.50" cy="749.30" r="2.0"/>
<circle cx="434.50" cy="755.00" r="2.0"/>
<circle cx="434.50" cy="760.00" r="2.0"/>
<circle cx="434.50" cy="769.00" r="2.0"/>
<circle cx="451.10" cy="683.80" r="2.0"/>
<circle cx="451.10" cy="724.70" r="2.0"/>
<circle cx="451.10" cy="727.60" r="2.0"/>
<circle cx="451.10" cy="743.20" r="2.0"/>
<circle cx="451.10" cy="749.50" r="2.0"/>
<circle cx="460.10" cy="679.70" r="2.0"/>
<circle cx="460.10" cy="699.60" r="2.0"/>
<circle cx="460.10" cy="710.80" r="2.0"/>
<circle cx="460.10" cy="727.20" r="2.0"/>
<circle cx="460.10" cy="730.50" r="2.0"/>
<circle cx="473.60" cy="674.60" r="2.0"/>
<circle cx="473.60" cy="688.00" r="2.0"/>
<circle cx="473.60" cy="696.70" r="2.0"/>
<circle cx="473.60" cy="704.30" r="2.0"/>
<circle cx="473.60" cy="717.80" r="2.0"/>
<circle cx="486.60" cy="646.40" r="2.0"/>
<circle cx="486.60" cy="664.30" r="2.0"/>
<circle cx="486.60" cy="683.70" r="2.0"/>
<circle cx="486.60" cy="687.40" r="2.0"/>
<circle cx="486.60" cy="702.10" r="2.0"/>
<circle cx="499.70" cy="642.70" r="2.0"/>
<circle cx="499.70" cy="645.90" r="2.0"/>
<circle cx="499.70" cy="659.30" r="2.0"/>
<circle cx="499.70" cy="677.40" r="2.0"/>
<circle cx="499.70" cy="723.90" r="2.0"/>
<circle cx="511.00" cy="588.90" r="2.0"/>
<circle cx="511.00" cy="625.70" r="2.0"/>
<circle cx="511.00" cy="631.80" r="2.0"/>
<circle cx="511.00" cy="644.20" r="2.0"/>
<circle cx="511.00" cy="658.40" r="2.0"/>
<circle cx="521.90" cy="613.60" r="2.0"/>
<circle cx="521.90" cy="623.40" r="2.0"/>
<circle cx="521.90" cy="628.90" r="2.0"/>
<circle cx="521.90" cy="683.20" r="2.0"/>
<circle cx="521.90" cy="704.40" r="2.0"/>
<circle cx="530.40" cy="602.30" r="2.0"/>
<circle cx="530.40" cy="608.30" r="2.0"/>
<circle cx="530.40" cy="634.70" r="2.0"/>
<circle cx="530.40" cy="649.30" r="2.0"/>
<path d="M333.80,794.75 L336.29,794.62 L338.78,794.48 L341.27,794.32 L343.75,794.15 L346.24,793.96 L348.73,793.76 L351.22,793.53 L353.71,793.29 L356.20,793.02 L358.69,792.73 L361.17,792.41 L363.66,792.07 L366.15,791.69 L368.64,791.28 L371.13,790.83 L373.62,790.34 L376.11,789.81 L378.59,789.23 L381.08,788.60 L383.57,787.92 L386.06,787.18 L388.55,786.37 L391.04,785.50 L393.53,784.55 L396.02,783.53 L398.50,782.42 L400.99,781.23 L403.48,779.94 L405.97,778.55 L408.46,777.06 L410.95,775.46 L413.44,773.74 L415.92,771.90 L418.41,769.93 L420.90,767.83 L423.39,765.60 L425.88,763.23 L428.37,760.73 L430.86,758.07 L433.34,755.28 L435.83,752.35 L438.32,749.27 L440.81,746.06 L443.30,742.72 L445.79,739.25 L448.28,735.67 L450.76,731.97 L453.25,728.18 L455.74,724.31 L458.23,720.36 L460.72,716.36 L463.21,712.31 L465.70,708.24 L468.18,704.16 L470.67,700.09 L473.16,696.05 L475.65,692.04 L478.14,688.10 L480.63,684.22 L483.12,680.43 L485.61,676.73 L488.09,673.15 L490.58,669.68 L493.07,666.33 L495.56,663.12 L498.05,660.05 L500.54,657.11 L503.03,654.32 L505.51,651.66 L508.00,649.15 L510.49,646.78 L512.98,644.55 L515.47,642.45 L517.96,640.48 L520.45,638.64 L522.93,636.92 L525.42,635.32 L527.91,633.82 L530.40,632.43" fill="none" stroke="#3f5fc6" stroke-width="2.0" stroke-linecap="butt"/>
<rect x="324.50" y="578.60" width="215.60" height="227.40" fill="none" stroke="#8a8a8a" stroke-width="1.1"/>
<line x1="321.80" y1="795.60" x2="324.50" y2="795.60" stroke="#4d4d4d" stroke-width="1"/>
<line x1="321.80" y1="769.15" x2="324.50" y2="769.15" stroke="#4d4d4d" stroke-width="1"/>
<line x1="321.80" y1="742.70" x2="324.50" y2="742.70" stroke="#4d4d4d" stroke-width="1"/>
<line x1="321.80" y1="716.25" x2="324.50" y2="716.25" stroke="#4d4d4d" stroke-width="1"/>
<line x1="321.80" y1="689.80" x2="324.50" y2="689.80" stroke="#4d4d4d" stroke-width="1"/>
<line x1="321.80" y1="663.35" x2="324.50" y2="663.35" stroke="#4d4d4d" stroke-width="1"/>
<line x1="321.80" y1="636.90" x2="324.50" y2="636.90" stroke="#4d4d4d" stroke-width="1"/>
<line x1="321.80" y1="610.45" x2="324.50" y2="610.45" stroke="#4d4d4d" stroke-width="1"/>
<line x1="321.80" y1="584.00" x2="324.50" y2="584.00" stroke="#4d4d4d" stroke-width="1"/>
<line x1="356.00" y1="806.00" x2="356.00" y2="808.70" stroke="#4d4d4d" stroke-width="1"/>
<line x1="390.00" y1="806.00" x2="390.00" y2="808.70" stroke="#4d4d4d" stroke-width="1"/>
<line x1="424.00" y1="806.00" x2="424.00" y2="808.70" stroke="#4d4d4d" stroke-width="1"/>
<line x1="458.00" y1="806.00" x2="458.00" y2="808.70" stroke="#4d4d4d" stroke-width="1"/>
<line x1="492.00" y1="806.00" x2="492.00" y2="808.70" stroke="#4d4d4d" stroke-width="1"/>
<line x1="526.00" y1="806.00" x2="526.00" y2="808.70" stroke="#4d4d4d" stroke-width="1"/>
<text x="320.20" y="798.70" text-anchor="end" class="tk">0</text>
<text x="320.20" y="772.25" text-anchor="end" class="tk">20</text>
<text x="320.20" y="745.80" text-anchor="end" class="tk">40</text>
<text x="320.20" y="719.35" text-anchor="end" class="tk">60</text>
<text x="320.20" y="692.90" text-anchor="end" class="tk">80</text>
<text x="320.20" y="666.45" text-anchor="end" class="tk">100</text>
<text x="320.20" y="640.00" text-anchor="end" class="tk">120</text>
<text x="320.20" y="613.55" text-anchor="end" class="tk">140</text>
<text x="320.20" y="587.10" text-anchor="end" class="tk">160</text>
<text x="356.00" y="816.60" text-anchor="middle" class="tk">200</text>
<text x="390.00" y="816.60" text-anchor="middle" class="tk">400</text>
<text x="424.00" y="816.60" text-anchor="middle" class="tk">600</text>
<text x="458.00" y="816.60" text-anchor="middle" class="tk">800</text>
<text x="492.00" y="816.60" text-anchor="middle" class="tk">1000</text>
<text x="526.00" y="816.60" text-anchor="middle" class="tk">1200</text>
<text transform="translate(333.50,595.10) scale(0.985,0.86)" class="pl">(f) <tspan font-style="italic" dx="-1.2">R</tspan><tspan dy="-6" font-size="10">2</tspan><tspan dy="6"> = 0.91</tspan></text>
<text transform="translate(298.20,692.30) rotate(-90) scale(0.97,1)" text-anchor="middle" class="al">Dry matter (g plant<tspan font-size="6.8" dy="-4.3">−1</tspan><tspan dy="4.3">)</tspan></text>
<text transform="translate(434.00,832.70) scale(1.04,1)" text-anchor="middle" class="al">Growing degree day (prediction, °C)</text>
</svg>
</body></html>
